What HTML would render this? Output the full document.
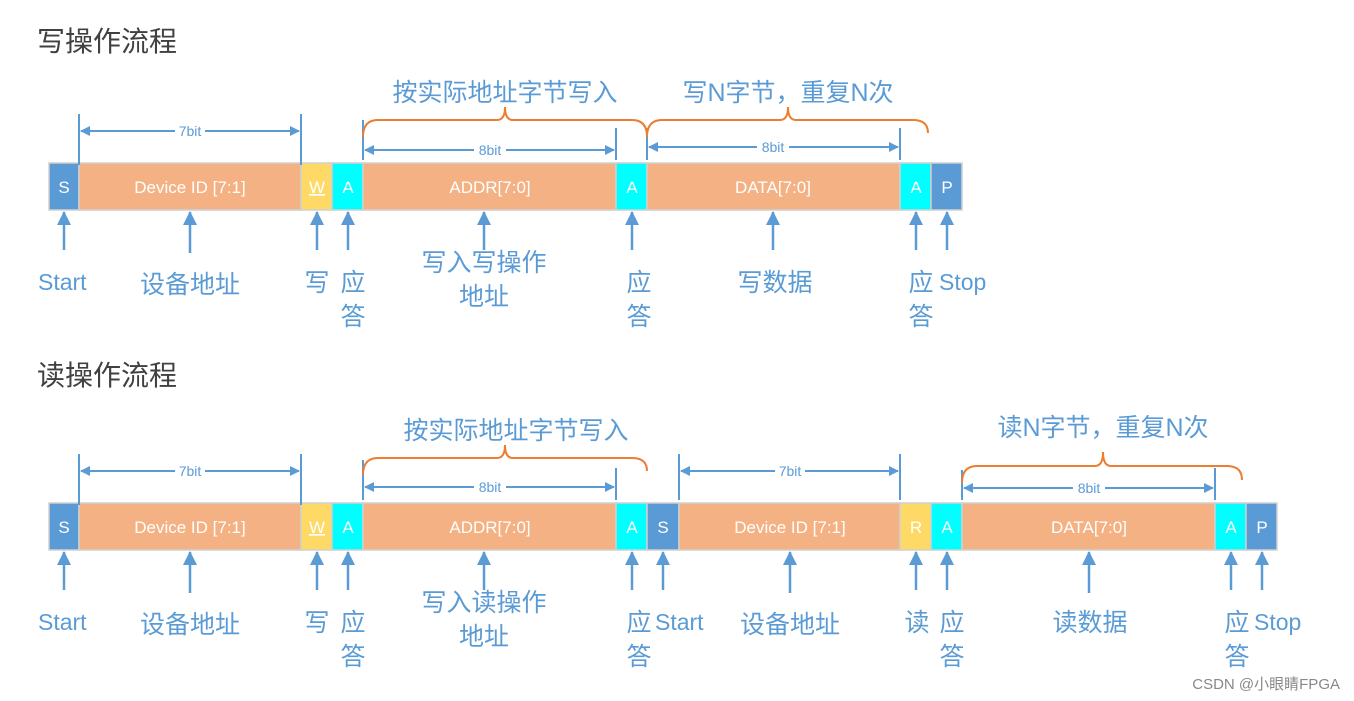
<!DOCTYPE html>
<html><head><meta charset="utf-8"><style>
body{margin:0;background:#fff;}
svg{display:block;}
text{font-family:"Liberation Sans","Noto Sans CJK SC",sans-serif;}
.lb{fill:#5b9bd5;font-size:25px;}
.en{font-size:23px;}
.ct{fill:#fff;font-size:17px;text-anchor:middle;}
.dim{fill:#5b9bd5;font-size:14px;text-anchor:middle;}
</style></head><body>
<svg width="1354" height="701" viewBox="0 0 1354 701">
<defs>
<marker id="ah" markerWidth="10" markerHeight="10" refX="9" refY="5" orient="auto-start-reverse" markerUnits="userSpaceOnUse"><path d="M0,0 L10,5 L0,10 z" fill="#5b9bd5"/></marker>
<marker id="up" markerWidth="14" markerHeight="14" refX="13" refY="7" orient="auto" markerUnits="userSpaceOnUse"><path d="M0,0 L14,7 L0,14 z" fill="#5b9bd5"/></marker>
</defs>
<text x="37" y="51" style="font-size:28px;fill:#404040">写操作流程</text>
<text x="37" y="385" style="font-size:28px;fill:#404040">读操作流程</text>

<g stroke="#d0d0d0" stroke-width="1.5">
<rect x="49" y="163" width="30" height="47" fill="#5b9bd5"/>
<rect x="79" y="163" width="222" height="47" fill="#f4b183"/>
<rect x="301" y="163" width="31" height="47" fill="#ffd966"/>
<rect x="332" y="163" width="31" height="47" fill="#00ffff"/>
<rect x="363" y="163" width="253" height="47" fill="#f4b183"/>
<rect x="616" y="163" width="31" height="47" fill="#00ffff"/>
<rect x="647" y="163" width="253" height="47" fill="#f4b183"/>
<rect x="900" y="163" width="31" height="47" fill="#00ffff"/>
<rect x="931" y="163" width="31" height="47" fill="#5b9bd5"/>

<rect x="49" y="503" width="30" height="47" fill="#5b9bd5"/>
<rect x="79" y="503" width="222" height="47" fill="#f4b183"/>
<rect x="301" y="503" width="31" height="47" fill="#ffd966"/>
<rect x="332" y="503" width="31" height="47" fill="#00ffff"/>
<rect x="363" y="503" width="253" height="47" fill="#f4b183"/>
<rect x="616" y="503" width="31" height="47" fill="#00ffff"/>
<rect x="647" y="503" width="32" height="47" fill="#5b9bd5"/>
<rect x="679" y="503" width="221" height="47" fill="#f4b183"/>
<rect x="900" y="503" width="31" height="47" fill="#ffd966"/>
<rect x="931" y="503" width="31" height="47" fill="#00ffff"/>
<rect x="962" y="503" width="253" height="47" fill="#f4b183"/>
<rect x="1215" y="503" width="31" height="47" fill="#00ffff"/>
<rect x="1246" y="503" width="31" height="47" fill="#5b9bd5"/>
</g>
<g class="ct">
<text x="64" y="193" class="ct">S</text><text x="190" y="193" class="ct">Device ID [7:1]</text>
<text x="317" y="193" class="ct" text-decoration="underline">W</text><text x="348" y="193" class="ct">A</text>
<text x="490" y="193" class="ct">ADDR[7:0]</text><text x="632" y="193" class="ct">A</text>
<text x="773" y="193" class="ct">DATA[7:0]</text><text x="916" y="193" class="ct">A</text><text x="947" y="193" class="ct">P</text>

<text x="64" y="533" class="ct">S</text><text x="190" y="533" class="ct">Device ID [7:1]</text>
<text x="317" y="533" class="ct" text-decoration="underline">W</text><text x="348" y="533" class="ct">A</text>
<text x="490" y="533" class="ct">ADDR[7:0]</text><text x="632" y="533" class="ct">A</text>
<text x="663" y="533" class="ct">S</text><text x="790" y="533" class="ct">Device ID [7:1]</text>
<text x="916" y="533" class="ct">R</text><text x="947" y="533" class="ct">A</text>
<text x="1089" y="533" class="ct">DATA[7:0]</text><text x="1231" y="533" class="ct">A</text><text x="1262" y="533" class="ct">P</text>
</g>

<g stroke="#5b9bd5" stroke-width="2" fill="none">
<path d="M79,114V165M301,114V165M363,120V160M616,128V160M647,128V160M900,128V160"/>
<path d="M79,454V505M301,454V505M363,460V500M616,468V500M679,454V500M900,454V500M962,470V500M1215,468V500"/>
<line x1="81" y1="131" x2="299" y2="131" marker-start="url(#ah)" marker-end="url(#ah)"/>
<line x1="365" y1="150" x2="614" y2="150" marker-start="url(#ah)" marker-end="url(#ah)"/>
<line x1="649" y1="147" x2="898" y2="147" marker-start="url(#ah)" marker-end="url(#ah)"/>
<line x1="81" y1="471" x2="299" y2="471" marker-start="url(#ah)" marker-end="url(#ah)"/>
<line x1="365" y1="487" x2="614" y2="487" marker-start="url(#ah)" marker-end="url(#ah)"/>
<line x1="681" y1="471" x2="898" y2="471" marker-start="url(#ah)" marker-end="url(#ah)"/>
<line x1="964" y1="488" x2="1213" y2="488" marker-start="url(#ah)" marker-end="url(#ah)"/>
</g>
<g class="dim">
<rect x="175" y="123" width="30" height="15" fill="#fff"/><text x="190" y="136">7bit</text>
<rect x="474" y="142" width="32" height="15" fill="#fff"/><text x="490" y="155">8bit</text>
<rect x="757" y="139" width="32" height="15" fill="#fff"/><text x="773" y="152">8bit</text>
<rect x="175" y="463" width="30" height="15" fill="#fff"/><text x="190" y="476">7bit</text>
<rect x="474" y="479" width="32" height="15" fill="#fff"/><text x="490" y="492">8bit</text>
<rect x="775" y="463" width="30" height="15" fill="#fff"/><text x="790" y="476">7bit</text>
<rect x="1073" y="480" width="32" height="15" fill="#fff"/><text x="1089" y="493">8bit</text>
</g>

<g stroke="#ed7d31" stroke-width="2" fill="none">
<path d="M363,137 Q363,120 378,120 L497,120 Q505,120 505,107 Q505,120 513,120 L632,120 Q647,120 647,137"/>
<path d="M647,137 Q647,120 662,120 L780,120 Q788,120 788,107 Q788,120 796,120 L913,120 Q928,120 928,133"/>
<path d="M363,475 Q363,458 378,458 L497,458 Q505,458 505,445 Q505,458 513,458 L632,458 Q647,458 647,471"/>
<path d="M962,483 Q962,466 977,466 L1095,466 Q1103,466 1103,452 Q1103,466 1111,466 L1227,466 Q1242,466 1242,480"/>
</g>
<g class="lb" text-anchor="middle">
<text x="505" y="101">按实际地址字节写入</text>
<text x="788" y="101">写N字节，重复N次</text>
<text x="516" y="439">按实际地址字节写入</text>
<text x="1103" y="436">读N字节，重复N次</text>
</g>

<g stroke="#5b9bd5" stroke-width="2.5">
<line x1="64" y1="250" x2="64" y2="212" marker-end="url(#up)"/>
<line x1="190" y1="253" x2="190" y2="212" marker-end="url(#up)"/>
<line x1="317" y1="250" x2="317" y2="212" marker-end="url(#up)"/>
<line x1="348" y1="250" x2="348" y2="212" marker-end="url(#up)"/>
<line x1="484" y1="250" x2="484" y2="212" marker-end="url(#up)"/>
<line x1="632" y1="250" x2="632" y2="212" marker-end="url(#up)"/>
<line x1="773" y1="250" x2="773" y2="212" marker-end="url(#up)"/>
<line x1="916" y1="250" x2="916" y2="212" marker-end="url(#up)"/>
<line x1="947" y1="250" x2="947" y2="212" marker-end="url(#up)"/>

<line x1="64" y1="590" x2="64" y2="552" marker-end="url(#up)"/>
<line x1="190" y1="593" x2="190" y2="552" marker-end="url(#up)"/>
<line x1="317" y1="590" x2="317" y2="552" marker-end="url(#up)"/>
<line x1="348" y1="590" x2="348" y2="552" marker-end="url(#up)"/>
<line x1="484" y1="590" x2="484" y2="552" marker-end="url(#up)"/>
<line x1="632" y1="590" x2="632" y2="552" marker-end="url(#up)"/>
<line x1="663" y1="590" x2="663" y2="552" marker-end="url(#up)"/>
<line x1="790" y1="593" x2="790" y2="552" marker-end="url(#up)"/>
<line x1="916" y1="590" x2="916" y2="552" marker-end="url(#up)"/>
<line x1="947" y1="590" x2="947" y2="552" marker-end="url(#up)"/>
<line x1="1089" y1="593" x2="1089" y2="552" marker-end="url(#up)"/>
<line x1="1231" y1="590" x2="1231" y2="552" marker-end="url(#up)"/>
<line x1="1262" y1="590" x2="1262" y2="552" marker-end="url(#up)"/>
</g>

<g class="lb">
<text x="38" y="290" class="en">Start</text>
<text x="190" y="293" text-anchor="middle">设备地址</text>
<text x="317" y="291" text-anchor="middle">写</text>
<text x="353" y="291" text-anchor="middle">应</text><text x="353" y="325" text-anchor="middle">答</text>
<text x="484" y="271" text-anchor="middle">写入写操作</text><text x="484" y="305" text-anchor="middle">地址</text>
<text x="639" y="291" text-anchor="middle">应</text><text x="639" y="325" text-anchor="middle">答</text>
<text x="775" y="291" text-anchor="middle">写数据</text>
<text x="921" y="291" text-anchor="middle">应</text><text x="921" y="325" text-anchor="middle">答</text>
<text x="939" y="290" class="en">Stop</text>

<text x="38" y="630" class="en">Start</text>
<text x="190" y="633" text-anchor="middle">设备地址</text>
<text x="317" y="631" text-anchor="middle">写</text>
<text x="353" y="631" text-anchor="middle">应</text><text x="353" y="665" text-anchor="middle">答</text>
<text x="484" y="611" text-anchor="middle">写入读操作</text><text x="484" y="645" text-anchor="middle">地址</text>
<text x="639" y="631" text-anchor="middle">应</text><text x="639" y="665" text-anchor="middle">答</text>
<text x="655" y="630" class="en">Start</text>
<text x="790" y="633" text-anchor="middle">设备地址</text>
<text x="917" y="631" text-anchor="middle">读</text>
<text x="952" y="631" text-anchor="middle">应</text><text x="952" y="665" text-anchor="middle">答</text>
<text x="1090" y="631" text-anchor="middle">读数据</text>
<text x="1237" y="631" text-anchor="middle">应</text><text x="1237" y="665" text-anchor="middle">答</text>
<text x="1254" y="630" class="en">Stop</text>
</g>
<text x="1340" y="689" text-anchor="end" style="font-size:15px;fill:#888">CSDN @小眼睛FPGA</text>
</svg>
</body></html>
